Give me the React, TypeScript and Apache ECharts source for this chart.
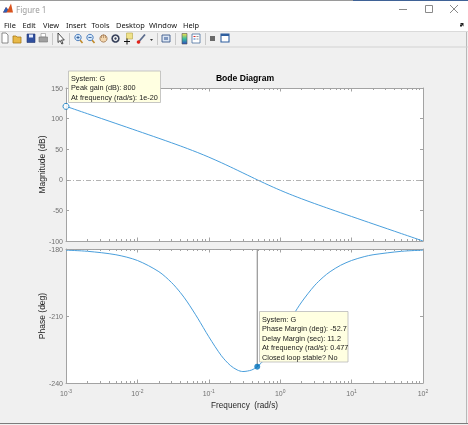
import React, { useEffect, useRef } from 'react';
import * as echarts from 'echarts';

// ---- data ----
const frequency = [0.001, 0.002, 0.005, 0.01, 0.02, 0.03, 0.04, 0.05, 0.07, 0.1, 0.15, 0.2, 0.25, 0.3, 0.4, 0.477, 0.6, 0.8, 1, 1.2, 1.5, 2, 3, 4, 5, 7, 10, 15, 20, 50, 100];
const magnitudeDb = [120.0, 107.96, 92.03, 79.96, 67.79, 60.55, 55.28, 51.08, 44.49, 37.03, 27.94, 21.14, 15.74, 11.29, 4.27, 0.0, -5.47, -12.1, -17.03, -20.91, -25.46, -31.08, -38.63, -43.82, -47.79, -53.71, -59.96, -67.06, -72.05, -87.96, -100.0];
const phaseDeg = [-180.52, -181.03, -182.58, -185.14, -190.16, -194.98, -199.51, -203.71, -210.99, -219.29, -227.78, -232.12, -234.16, -234.87, -234.16, -232.7, -229.58, -224.21, -219.29, -215.05, -209.88, -203.71, -196.52, -192.61, -190.16, -187.31, -185.14, -183.43, -182.57, -181.03, -180.52];

const decadeTicks = [0.001, 0.01, 0.1, 1, 10, 100];
const minorMultipliers = [2, 3, 4, 5, 6, 7, 8, 9];
const magAxis = { min: -100, max: 150, step: 50 };
const phaseAxis = { min: -240, max: -180, step: 30 };

const peakTip = { freq: 0.001, mag: 120 };
const marginTip = { freq: 0.477, phase: -232.7, ref: -180 };
const peakTipLines = ['System: G', 'Peak gain (dB): 800', 'At frequency (rad/s): 1e-20'];
const marginTipLines = ['System: G', 'Phase Margin (deg): -52.7', 'Delay Margin (sec): 11.2', 'At frequency (rad/s): 0.477', 'Closed loop stable? No'];
const menuItems = ['File', 'Edit', 'View', 'Insert', 'Tools', 'Desktop', 'Window', 'Help'];
const windowTitle = 'Figure 1';
const chartTitle = 'Bode Diagram';
const xName = 'Frequency \u00a0(rad/s)';

const FONT = '"Liberation Sans", Arial, Helvetica, sans-serif';
const UIFONT = '"Noto Sans", "Liberation Sans", Arial, sans-serif';
const LINE_BLUE = '#4a9fdc';
const MARK_BLUE = '#0072BD';
const AXIS_GREY = '#a3a3a3';
const TICK_TEXT = '#707070';

// tick positions in decade units for the tick-only overlay axes
const decadeExp = decadeTicks.map((d) => Math.log10(d));
const minorExp: number[] = [];
decadeTicks.slice(0, -1).forEach((d) => minorMultipliers.forEach((m) => minorExp.push(Math.log10(d * m))));

const txt = (x: number, y: number, text: string, size: number, fill: string, extra: any = {}) => ({
  type: 'text', x, y, z: 100, silent: true,
  style: { text, fill, fontSize: size, fontFamily: FONT, textAlign: 'left', align: 'left', textVerticalAlign: 'middle', verticalAlign: 'middle', ...extra },
});
const rect = (x: number, y: number, w: number, h: number, fill: any, stroke?: string, lw = 1, z = 100) => ({
  type: 'rect', z, silent: true, shape: { x, y, width: w, height: h }, style: { fill, stroke: stroke || null, lineWidth: lw },
});
const ln = (x1: number, y1: number, x2: number, y2: number, stroke: string, lw = 1) => ({
  type: 'line', z: 100, silent: true, shape: { x1, y1, x2, y2 }, style: { stroke, lineWidth: lw },
});
const poly = (points: number[][], fill: string, stroke?: string, lw = 0.8) => ({
  type: 'polygon', z: 100, silent: true, shape: { points }, style: { fill, stroke: stroke || null, lineWidth: lw },
});
const circ = (cx: number, cy: number, r: number, fill: string, stroke?: string, lw = 0.8) => ({
  type: 'circle', z: 100, silent: true, shape: { cx, cy, r }, style: { fill, stroke: stroke || null, lineWidth: lw },
});

function buildChrome(): any[] {
  const g: any[] = [];
  g.push(rect(0, 0, 468, 425, '#f0f0f0', undefined, 0, -10));
  g.push(rect(0, 0, 468, 31, '#ffffff', undefined, 0, -9));
  g.push(ln(0, 0.5, 353, 0.5, '#9a9a9a'));
  g.push(ln(353, 0.5, 468, 0.5, '#3f6296'));
  g.push(ln(466.5, 31, 466.5, 424, '#b8b8b8'));
  g.push(ln(0, 423.5, 468, 423.5, '#7c7c7c'));
  // title bar
  g.push(poly([[3, 12.5], [6, 7], [8, 9.5], [11, 3.5], [13, 12.5]], '#d9531e'));
  g.push(poly([[3, 12.5], [6, 7], [8, 9.5], [6.5, 12.5]], '#2d5fb8'));
  g.push(txt(16, 9, windowTitle, 8, '#9c9c9c', { fontFamily: UIFONT }));
  g.push(ln(399, 9.5, 407, 9.5, '#8a8a8a'));
  g.push(rect(425.5, 5.5, 7, 7, 'none', '#8a8a8a', 1));
  g.push(ln(450, 5, 458, 13, '#8a8a8a'));
  g.push(ln(458, 5, 450, 13, '#8a8a8a'));
  g.push(poly([[460, 23], [463.5, 23], [463.5, 26.5]], '#222222'));
  g.push(rect(460, 24.5, 2, 2, '#222222'));
  // menu
  const menuX = [4, 22.5, 43, 66, 91.5, 116, 149, 183];
  menuItems.forEach((m, i) => g.push(txt(menuX[i], 25, m, 7.4, '#111111', { fontFamily: UIFONT })));
  // toolbar
  g.push(ln(0, 31.5, 468, 31.5, '#dadada'));
  g.push(ln(0, 47, 468, 47, '#d2d2d2'));
  g.push(poly([[2, 33], [6, 33], [8, 35], [8, 43], [2, 43]], '#ffffff', '#6f6f6f'));
  g.push(poly([[13, 36], [16, 36], [17, 37], [21, 37], [21, 43], [13, 43]], '#e8b948', '#a87a18'));
  g.push(rect(27, 34, 8, 8.5, '#2f4f9f', '#22386f', 0.6));
  g.push(rect(29, 34.5, 4, 3, '#e4ecff'));
  g.push(rect(41, 33.5, 4.5, 3.5, '#ffffff', '#8a8a8a', 0.6));
  g.push(rect(39, 37, 8.5, 5, '#a0a0a0', '#777777', 0.6));
  g.push(ln(52.5, 33, 52.5, 45, '#c8c8c8'));
  g.push(poly([[58, 33], [58, 42.5], [60.2, 40.5], [61.8, 44], [63, 43.5], [61.5, 40], [64.3, 40]], '#ffffff', '#222222', 0.8));
  g.push(ln(69.5, 33, 69.5, 45, '#c8c8c8'));
  [78, 90].forEach((cx, i) => {
    g.push(ln(cx + 2, 40, cx + 4.5, 43, '#c08a2a', 1.6));
    g.push(circ(cx, 37.5, 3.2, '#d6e8fa', '#3f74b8', 0.9));
    g.push(ln(cx - 1.6, 37.5, cx + 1.6, 37.5, '#1f4f90', 0.8));
    if (i === 0) g.push(ln(cx, 35.9, cx, 39.1, '#1f4f90', 0.8));
  });
  g.push(circ(103.5, 38.5, 3.6, '#f2d6ae', '#9a7048', 0.8));
  g.push(ln(101.5, 35, 101.5, 38, '#9a7048', 0.6));
  g.push(ln(103.5, 34.5, 103.5, 38, '#9a7048', 0.6));
  g.push(ln(105.5, 35, 105.5, 38, '#9a7048', 0.6));
  g.push(circ(115.5, 38.5, 3.4, 'none', '#39435c', 1.6));
  g.push(circ(115.5, 38.5, 1.2, '#39435c'));
  g.push(rect(126.5, 33, 6, 6, '#efe28a', '#b5a648', 0.6));
  g.push(ln(124, 41.5, 130, 41.5, '#111111', 1));
  g.push(ln(127, 38.5, 127, 44.5, '#111111', 1));
  g.push(ln(139, 41.5, 145, 34.5, '#5b6b8c', 1.8));
  g.push(circ(138.5, 42, 1.8, '#e2231a'));
  g.push(poly([[150, 39], [153, 39], [151.5, 41]], '#333333'));
  g.push(ln(157.5, 33, 157.5, 45, '#c8c8c8'));
  g.push(rect(162, 35, 8, 7, '#dbe5f3', '#3d5a8a', 0.9));
  g.push(rect(164, 37, 4, 3, '#7f97bf'));
  g.push(ln(175.5, 33, 175.5, 45, '#c8c8c8'));
  g.push(rect(182, 33.5, 5, 10.5, new (echarts as any).graphic.LinearGradient(0, 0, 0, 1, [
    { offset: 0, color: '#f7e14a' }, { offset: 0.5, color: '#39bfa0' }, { offset: 1, color: '#2f4fbf' },
  ]), '#555555', 0.6));
  g.push(rect(192, 34, 8, 9, '#ffffff', '#4a6fa0', 0.8));
  g.push(ln(193.5, 36.5, 195.5, 36.5, '#d8262a', 1));
  g.push(ln(193.5, 39, 195.5, 39, '#2f6fc8', 1));
  g.push(ln(196.5, 36.5, 198.5, 36.5, '#7a7a7a', 0.8));
  g.push(ln(196.5, 39, 198.5, 39, '#7a7a7a', 0.8));
  g.push(ln(205.5, 33, 205.5, 45, '#c8c8c8'));
  g.push(rect(210, 36, 5, 5, '#6a6a6a'));
  g.push(rect(221, 34, 8, 8, '#ffffff', '#2f5f9f', 1.1));
  g.push(rect(221, 34, 8, 2, '#2f5f9f'));
  return g;
}

function buildTips(): any[] {
  const g: any[] = [];
  g.push(rect(68.5, 71, 92, 31.5, '#ffffe1', '#b9b9b9', 0.8));
  peakTipLines.forEach((t, i) => g.push(txt(71, 78.3 + i * 9.5, t, 7.3, '#1a1a1a')));
  g.push(rect(259.5, 311.5, 88.5, 50.5, '#ffffe1', '#b9b9b9', 0.8));
  marginTipLines.forEach((t, i) => g.push(txt(262, 319 + i * 9.5, t, 7.3, '#1a1a1a')));
  g.push(txt(245, 78.3, chartTitle, 8.6, '#000000', { fontWeight: 'bold', textAlign: 'center', align: 'center' }));
  return g;
}

const supLabel = (v: number) => `{b|10}{s|${Math.round(Math.log10(v))}}`;

function xAxes(gridIndex: number, withLabels: boolean): any[] {
  const logBase = { type: 'log', logBase: 10, min: decadeTicks[0], max: decadeTicks[decadeTicks.length - 1], gridIndex, splitLine: { show: false } };
  const dataAxis = (position: string, labels: boolean, name?: string) => ({
    ...logBase, position,
    axisLine: { show: true, onZero: false, lineStyle: { color: AXIS_GREY, width: 1 } },
    axisTick: { show: false },
    axisLabel: labels ? {
      show: true, margin: 5, customValues: decadeTicks, formatter: supLabel, showMinLabel: true, showMaxLabel: true,
      rich: {
        b: { fontSize: 7, color: TICK_TEXT, fontFamily: FONT, lineHeight: 10 },
        s: { fontSize: 5, color: TICK_TEXT, fontFamily: FONT, padding: [0, 0, 5, 0], lineHeight: 10 },
      },
    } : { show: false },
    ...(name ? { name, nameLocation: 'middle', nameGap: 18, nameMoveOverlap: false, nameTextStyle: { fontSize: 8.2, color: '#262626', fontFamily: FONT } } : {}),
  });
  const tickAxis = (position: string, values: number[], length: number) => ({
    type: 'value', gridIndex, min: decadeExp[0], max: decadeExp[decadeExp.length - 1], position,
    splitLine: { show: false },
    axisLine: { show: false, onZero: false },
    axisTick: { show: true, inside: true, length, customValues: values, lineStyle: { color: AXIS_GREY, width: 1 } },
    axisLabel: { show: false },
  });
  return [
    dataAxis('bottom', withLabels, withLabels ? xName : undefined),
    dataAxis('top', false),
    tickAxis('bottom', decadeExp, 3.5),
    tickAxis('bottom', minorExp, 2),
    tickAxis('top', decadeExp, 3.5),
    tickAxis('top', minorExp, 2),
  ];
}

function yAxes(gridIndex: number, ax: { min: number; max: number; step: number }, name: string): any[] {
  const base = {
    type: 'value', gridIndex, min: ax.min, max: ax.max, interval: ax.step, splitLine: { show: false },
    axisLine: { show: true, onZero: false, lineStyle: { color: AXIS_GREY, width: 1 } },
    axisTick: { show: true, inside: true, length: 3, lineStyle: { color: AXIS_GREY } },
  };
  return [
    {
      ...base, position: 'left',
      axisLabel: { show: true, margin: 3, fontSize: 7, color: TICK_TEXT, fontFamily: FONT, showMinLabel: true, showMaxLabel: true },
      name, nameLocation: 'middle', nameGap: 20, nameRotate: 90, nameMoveOverlap: false,
      nameTextStyle: { fontSize: 8.5, color: '#262626', fontFamily: FONT },
    },
    { ...base, position: 'right', axisLabel: { show: false } },
  ];
}

const dashDot = { color: '#a0a0a0', type: [5, 2, 1, 2], width: 0.8 };

export default function App() {
  const ref = useRef<HTMLDivElement>(null);
  useEffect(() => {
    const chart = echarts.init(ref.current as HTMLDivElement, null, { renderer: 'svg' });
    const magData = frequency.map((f, i) => [f, magnitudeDb[i]]);
    const phaseData = frequency.map((f, i) => [f, phaseDeg[i]]);
    const magX = 0;
    const phaseX = 6;
    const option: any = {
      animation: false,
      grid: [
        { left: 66, top: 88, width: 357, height: 153, show: true, backgroundColor: '#ffffff', borderWidth: 0, containLabel: false },
        { left: 66, top: 249, width: 357, height: 134, show: true, backgroundColor: '#ffffff', borderWidth: 0, containLabel: false },
      ],
      xAxis: [...xAxes(0, false), ...xAxes(1, true)],
      yAxis: [...yAxes(0, magAxis, 'Magnitude (dB)'), ...yAxes(1, phaseAxis, 'Phase (deg)')],
      series: [
        {
          type: 'line', xAxisIndex: magX, yAxisIndex: 0, data: magData, showSymbol: false, smooth: 0.3,
          lineStyle: { color: LINE_BLUE, width: 1 }, silent: true,
          markLine: { silent: true, symbol: 'none', label: { show: false }, lineStyle: dashDot, data: [{ yAxis: 0 }] },
        },
        {
          type: 'line', xAxisIndex: phaseX, yAxisIndex: 2, data: phaseData, showSymbol: false, smooth: 0.3,
          lineStyle: { color: LINE_BLUE, width: 1 }, silent: true,
          markLine: { silent: true, symbol: 'none', label: { show: false }, lineStyle: dashDot, data: [{ yAxis: marginTip.ref }] },
        },
        {
          type: 'line', xAxisIndex: phaseX, yAxisIndex: 2, showSymbol: false, silent: true,
          data: [[marginTip.freq, marginTip.ref], [marginTip.freq, marginTip.phase]],
          lineStyle: { color: '#7f7f7f', width: 1 },
        },
        {
          type: 'scatter', xAxisIndex: phaseX, yAxisIndex: 2, data: [[marginTip.freq, marginTip.phase]],
          symbol: 'circle', symbolSize: 6, itemStyle: { color: MARK_BLUE }, clip: false, silent: true, z: 5,
        },
        {
          type: 'scatter', xAxisIndex: magX, yAxisIndex: 0, data: [[peakTip.freq, peakTip.mag]],
          symbol: 'circle', symbolSize: 6, itemStyle: { color: '#ffffff', borderColor: MARK_BLUE, borderWidth: 1 }, clip: false, silent: true, z: 5,
        },
      ],
      graphic: { elements: [...buildChrome(), ...buildTips()] },
    };
    chart.setOption(option);
    return () => chart.dispose();
  }, []);
  return <div ref={ref} style={{ position: 'fixed', left: 0, top: 0, width: 468, height: 425 }} />;
}
